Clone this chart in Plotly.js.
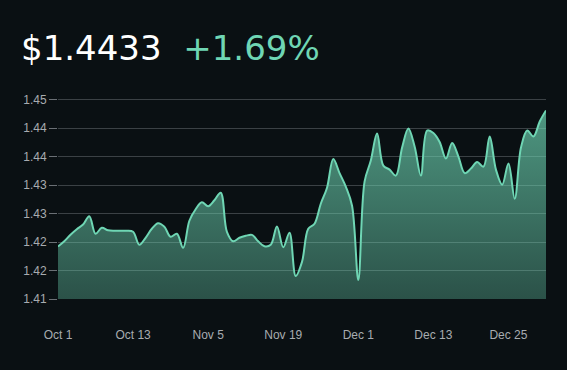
<!DOCTYPE html>
<html>
<head>
<meta charset="utf-8">
<script src="https://cdn.plot.ly/plotly-3.0.1.min.js"></script>
<style>
  html, body { margin: 0; padding: 0; background: #0a1013; }
  #chart { width: 567px; height: 370px; }
</style>
</head>
<body>
<div id="chart"></div>
<script>
// ---- data ----
const priceLabel = "$1.4433";
const changeLabel = "+1.69%";

const dateTickLabels = ["Oct 1", "Oct 13", "Nov 5", "Nov 19", "Dec 1", "Dec 13", "Dec 25"];
const dateTickIndex = [0, 12, 24, 36, 48, 60, 72];

const priceValues = [
  1.42421, 1.42513, 1.42627, 1.42724, 1.42807, 1.42953, 1.42645, 1.42751, 1.42707, 1.42698,
  1.42698, 1.42698, 1.42680, 1.42451, 1.42575, 1.42733, 1.42830, 1.42768, 1.42592, 1.42645,
  1.42398, 1.42874, 1.43077, 1.43200, 1.43129, 1.43235, 1.43367, 1.42680, 1.42513, 1.42575,
  1.42610, 1.42627, 1.42513, 1.42425, 1.42451, 1.42774, 1.42407, 1.42663, 1.41905, 1.42152,
  1.42733, 1.42821, 1.43173, 1.43455, 1.43957, 1.43711, 1.43473, 1.43138, 1.41835, 1.43561,
  1.43931, 1.44406, 1.43843, 1.43772, 1.43667, 1.44160, 1.44494, 1.44177, 1.43667, 1.44459,
  1.44415, 1.44257, 1.43966, 1.44239, 1.44001, 1.43711, 1.43790, 1.43904, 1.43825, 1.44354,
  1.43772, 1.43508, 1.43878, 1.43261, 1.44160, 1.44459, 1.44354, 1.44618, 1.44812
];

const yTickValues = [1.415, 1.42, 1.425, 1.43, 1.435, 1.44, 1.445, 1.45];
const yTickLabels = ["1.41", "1.42", "1.42", "1.43", "1.43", "1.44", "1.44", "1.45"];

// ---- chart ----
const xIndex = priceValues.map((_, i) => i);

const trace = {
  x: xIndex,
  y: priceValues,
  type: "scatter",
  mode: "lines",
  line: { color: "#6fd6b4", width: 2, shape: "spline", smoothing: 1 },
  fill: "tozeroy",
  fillgradient: {
    type: "vertical",
    start: 1.415,
    stop: 1.45,
    colorscale: [[0, "rgba(110,214,180,0.33)"], [1, "rgba(110,214,180,0.70)"]]
  },
  hoverinfo: "skip"
};

const layout = {
  width: 567,
  height: 370,
  paper_bgcolor: "#0a1013",
  plot_bgcolor: "#0a1013",
  margin: { l: 58, r: 21, t: 98, b: 71 },
  showlegend: false,
  title: {
    text: priceLabel + "&nbsp;&nbsp;<span style='color:#6fd6b4'>" + changeLabel + "</span>",
    xref: "container",
    yref: "container",
    x: 21 / 567,
    xanchor: "left",
    y: 1 - 48 / 370,
    yanchor: "middle",
    font: { family: "DejaVu Sans", size: 34, color: "#ffffff" }
  },
  xaxis: {
    type: "linear",
    range: [0, priceValues.length - 1],
    tickvals: dateTickIndex,
    ticktext: dateTickLabels,
    showgrid: false,
    zeroline: false,
    showline: false,
    ticks: "",
    ticklabelstandoff: 27,
    tickfont: { family: "Liberation Sans, Arial, sans-serif", size: 12, color: "#a8acb0" },
    fixedrange: true
  },
  yaxis: {
    range: [1.415, 1.4503],
    tickvals: yTickValues,
    ticktext: yTickLabels,
    showgrid: true,
    gridcolor: "#3b4145",
    gridwidth: 1,
    zeroline: false,
    showline: false,
    ticks: "outside",
    ticklen: 8,
    tickcolor: "#6b7075",
    tickwidth: 1,
    tickfont: { family: "Liberation Sans, Arial, sans-serif", size: 12, color: "#a8acb0" },
    fixedrange: true
  }
};

Plotly.newPlot("chart", [trace], layout, { displayModeBar: false, staticPlot: true });
</script>
</body>
</html>
